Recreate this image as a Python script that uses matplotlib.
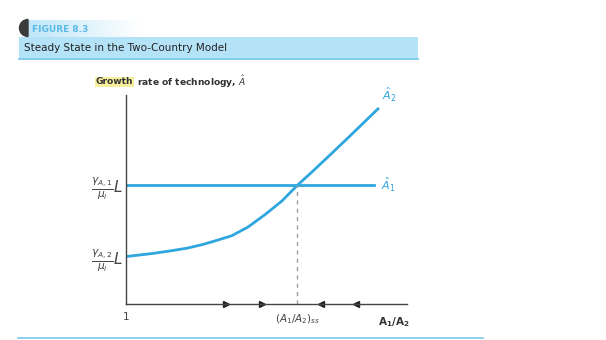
import numpy as np
import matplotlib
matplotlib.use("Agg")
import matplotlib.pyplot as plt
from matplotlib.patches import Rectangle, Wedge

# curve A2 hat (abstract units 0..10)
a2_x = [0.0, 0.96, 1.57, 2.17, 2.74, 3.27, 3.77, 4.34, 4.95, 5.55, 6.09, 6.62, 7.26, 7.97, 9.0]
a2_y = [2.27, 2.42, 2.54, 2.67, 2.85, 3.06, 3.27, 3.68, 4.28, 4.93, 5.67, 6.32, 7.13, 8.04, 9.38]

# flat line A1 hat
a1_level = 5.69
a1_end = 8.83

# steady state ratio
x_ss = 6.09

# arrows on the x axis
arrows_right = [3.56, 4.84]
arrows_left = [6.94, 8.19]

x_ticks = [0, x_ss]
x_ticklabels = ["1", r"$(A_1/A_2)_{ss}$"]
y_ticks = [a1_level, 2.27]
y_ticklabels = [r"$\frac{\gamma_{A,1}}{\mu_i}L$", r"$\frac{\gamma_{A,2}}{\mu_i}L$"]

blue = "#2ea6de"
axis_col = "#444444"
W, H = 606, 340

fig = plt.figure(figsize=(W / 100, H / 100), dpi=100)

# decoration layer in pixel units
deco = fig.add_axes([0, 0, 1, 1])
deco.set_xlim(0, W)
deco.set_ylim(H, 0)
deco.axis("off")

grad = np.linspace(0, 1, 200)[None, :]
deco.imshow(grad, extent=[28, 140, 37, 20], cmap=matplotlib.colors.LinearSegmentedColormap.from_list(
    "g", ["#bfe6f8", "#ffffff"]), aspect="auto", zorder=1)
deco.add_patch(Wedge((28, 28), 8.5, 90, 270, color="#3b3b3b", zorder=2))
deco.text(32, 29, "FIGURE 8.3", color="#5bbbe8", fontsize=6.5, fontweight="bold", va="center", zorder=3)
deco.add_patch(Rectangle((19, 37), 399, 21, facecolor="#b4e3f7", edgecolor="none", zorder=1))
deco.plot([19, 418], [58.5, 58.5], color="#6cc3ec", lw=1.2)
deco.text(24, 48, "Steady State in the Two-Country Model", fontsize=7.5, color="#222222", va="center")
deco.plot([18, 483], [337.5, 337.5], color="#7cc8ee", lw=1.2)

deco.text(96, 82, "Growth", fontsize=6.6, fontweight="bold", color="#333333", va="center",
          bbox=dict(boxstyle="square,pad=0.1", facecolor="#f6ef9c", edgecolor="none"))
deco.text(137, 82, r"rate of technology, $\hat{A}$", fontsize=6.6, fontweight="bold",
          color="#333333", va="center")

# main plot
ax = fig.add_axes([126 / W, (H - 304) / H, 281 / W, 209 / H])
ax.set_xlim(0, 10)
ax.set_ylim(0, 10)
ax.patch.set_alpha(0)
for s in ["top", "right"]:
    ax.spines[s].set_visible(False)
for s in ["left", "bottom"]:
    ax.spines[s].set_color(axis_col)
    ax.spines[s].set_linewidth(1.0)

ax.plot([0, a1_end], [a1_level, a1_level], color=blue, lw=2)
ax.plot(a2_x, a2_y, color=blue, lw=2, solid_capstyle="butt", solid_joinstyle="round")
ax.plot([x_ss, x_ss], [0, a1_level], color="#a0a0a0", lw=1, ls=(0, (3, 3)))

ax.plot(arrows_right, [0] * len(arrows_right), ls="none", marker=">", ms=4.5, color="#222222", clip_on=False)
ax.plot(arrows_left, [0] * len(arrows_left), ls="none", marker="<", ms=4.5, color="#222222", clip_on=False)

ax.text(a1_end + 0.25, a1_level, r"$\hat{A}_1$", color=blue, fontsize=8, va="center")
ax.text(a2_x[-1] + 0.1, a2_y[-1] + 0.2, r"$\hat{A}_2$", color=blue, fontsize=8, va="bottom")

ax.set_xticks(x_ticks)
ax.set_xticklabels(x_ticklabels, fontsize=7.5, color="#444444")
ax.set_yticks(y_ticks)
ax.set_yticklabels(y_ticklabels, fontsize=11, color="#444444")
ax.tick_params(axis="x", length=0, pad=6)
ax.tick_params(axis="y", length=0, pad=2)
ax.text(9.55, -0.55, r"$\mathbf{A_1/A_2}$", fontsize=7.5, color="#333333", ha="center", va="top")

fig.savefig("out.png", dpi=100)
